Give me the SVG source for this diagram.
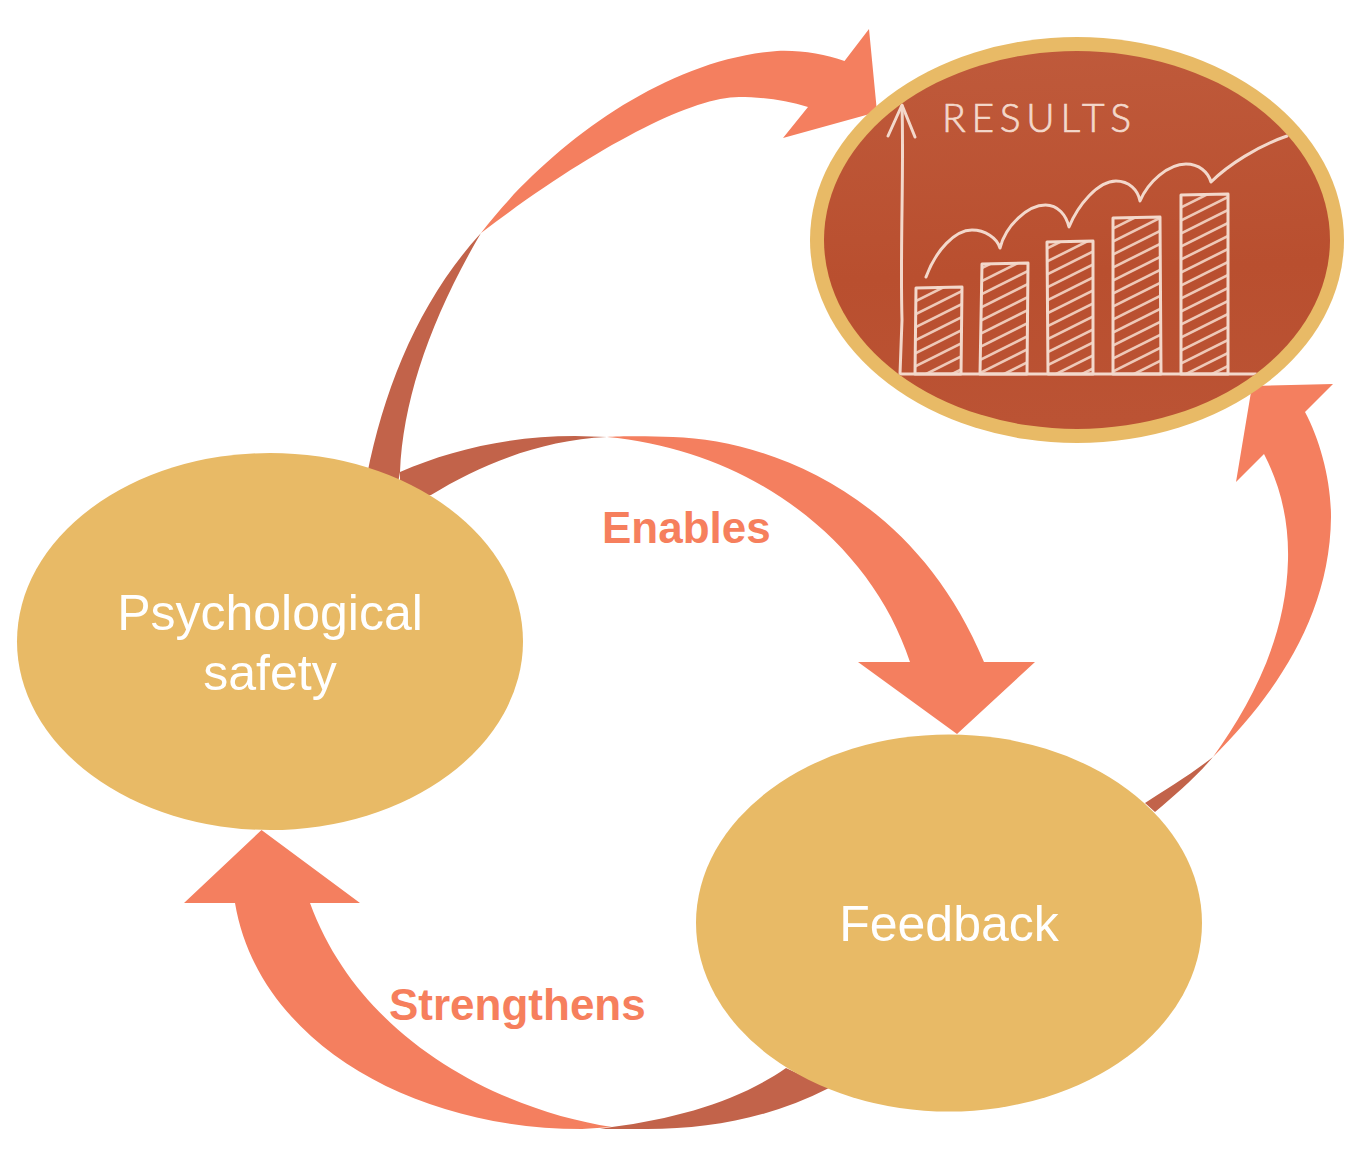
<svg xmlns="http://www.w3.org/2000/svg" width="1358" height="1158" viewBox="0 0 1358 1158">
  <style>
    .arrow { fill: #f47f5f; }
    .tail { fill: #c2634a; }
    .bubble { fill: #e8ba66; }
    .name { font-family: "Liberation Sans", Arial, sans-serif; font-size: 50px; fill: #ffffff; text-anchor: middle; }
    .verb { font-family: "Liberation Sans", Arial, sans-serif; font-size: 44px; font-weight: 700; fill: #f67f5d; }
    .chalk { fill: none; stroke: #f3d8cb; stroke-width: 3; stroke-linecap: round; stroke-linejoin: round; }
    .bar { fill: url(#hatch); stroke: #f3d8cb; stroke-width: 3; stroke-linejoin: round; }
    .title { font-family: "Lato", "Liberation Sans", sans-serif; font-weight: 300; font-size: 39px; fill: #f3d8cb; stroke: #f3d8cb; stroke-width: 0.7; }
  </style>
  <defs>
    <linearGradient id="board" x1="0.1" y1="0" x2="0.15" y2="1">
      <stop offset="0" stop-color="#bf5a3b"/>
      <stop offset="0.6" stop-color="#b94f2f"/>
      <stop offset="1" stop-color="#bb5334"/>
    </linearGradient>
    <pattern id="hatch" patternUnits="userSpaceOnUse" width="26" height="13" patternTransform="translate(916 288)">
      <path d="M-4 15 L30 -2 M-4 2 L4 -2 M22 15 L30 11" stroke="#eec8b7" stroke-width="2.6" fill="none"/>
    </pattern>
    <clipPath id="boardClip">
      <ellipse cx="1077" cy="240" rx="253" ry="189"/>
    </clipPath>
  </defs>

  <rect width="1358" height="1158" fill="#ffffff"/>

  <g id="connectors">
    <!-- safety to results -->
    <path class="tail" d="M481 233 C420 300 385 385 367 475 L395 500 L400 472 C403 400 430 320 481 233 Z"/>
    <path class="arrow" d="M481 233 C545 150 660 60 777 51 C800 50 825 54 844.5 61 L869 29 L877 112 L783 138 L808 107 C785 100 760 97 739 97 C690 97 590 150 481 233 Z"/>
    <!-- safety to feedback -->
    <path class="tail" d="M400 472 C450 450 510 436 575 436 L607 437 C540 440 480 465 431 495 L400 500 Z"/>
    <path class="arrow" d="M607 437 C620 436 650 436 673 437 C770 440 915 495 984 662 L1035 662 L957 734 L858 662 L910 662 C870 540 750 450 607 437 Z"/>
    <!-- feedback to safety -->
    <path class="tail" d="M612 1127 C680 1118 740 1100 786 1068 L829 1088 C770 1118 710 1129 647 1129 L600 1129 Z"/>
    <path class="arrow" d="M612 1127 C500 1110 360 1040 310 903 L360 903 L261.5 830 L184 903 L235 903 C258 1040 410 1129 582 1129 L612 1127 Z"/>
    <!-- feedback to results -->
    <path class="tail" d="M1213 757 C1190 775 1165 790 1145 803 L1155 812 C1175 795 1195 778 1213 757 Z"/>
    <path class="arrow" d="M1213 757 C1270 700 1330 620 1331 517 C1331 480 1320 440 1305 412 L1333 384 L1252 386 L1236 482 L1264 454 C1280 485 1289 520 1288 560 C1286 640 1250 705 1213 757 Z"/>
    <text class="verb" x="602" y="543">Enables</text>
    <text class="verb" x="389" y="1020">Strengthens</text>
  </g>

  <g id="safety">
    <ellipse class="bubble" cx="270" cy="641.5" rx="253" ry="188.5"/>
    <text class="name" x="270" y="630">Psychological</text>
    <text class="name" x="270" y="690">safety</text>
  </g>

  <g id="feedback">
    <ellipse class="bubble" cx="949" cy="923" rx="253" ry="188.5"/>
    <text class="name" x="949" y="941">Feedback</text>
  </g>

  <g id="results">
    <ellipse class="bubble" cx="1077" cy="240" rx="267" ry="203"/>
    <ellipse cx="1077" cy="240" rx="253" ry="189" fill="url(#board)"/>
    <g clip-path="url(#boardClip)">
      <!-- axes -->
      <path class="chalk" d="M902 106 C904 170 900 250 902 320 L900 374 L1256 374"/>
      <path class="chalk" d="M888 136 L902 105 L915 137"/>
      <!-- bars -->
      <path class="bar" d="M916 288 L962 287 L961 374 L915 374 Z"/>
      <path class="bar" d="M982 264 L1028 263 L1027 374 L980 374 Z"/>
      <path class="bar" d="M1047 242 L1093 241 L1093 374 L1048 374 Z"/>
      <path class="bar" d="M1113 218 L1160 217 L1161 374 L1113 374 Z"/>
      <path class="bar" d="M1181 195 L1228 194 L1228 374 L1181 374 Z"/>
      <!-- trend line -->
      <path class="chalk" d="M926 277 C936 250 955 230 972 230 C985 230 997 238 1000 248 C1006 225 1028 205 1045.5 205 C1058 205 1066 215 1069 227 C1078 205 1098 181 1116 181 C1129 181 1138 190 1140 201 C1148 182 1168 164 1186 164 C1199 164 1208 172 1211 182 C1228 165 1258 146 1287 136"/>
      <text class="title" x="942" y="132" textLength="189" lengthAdjust="spacing">RESULTS</text>
    </g>
  </g>
</svg>
